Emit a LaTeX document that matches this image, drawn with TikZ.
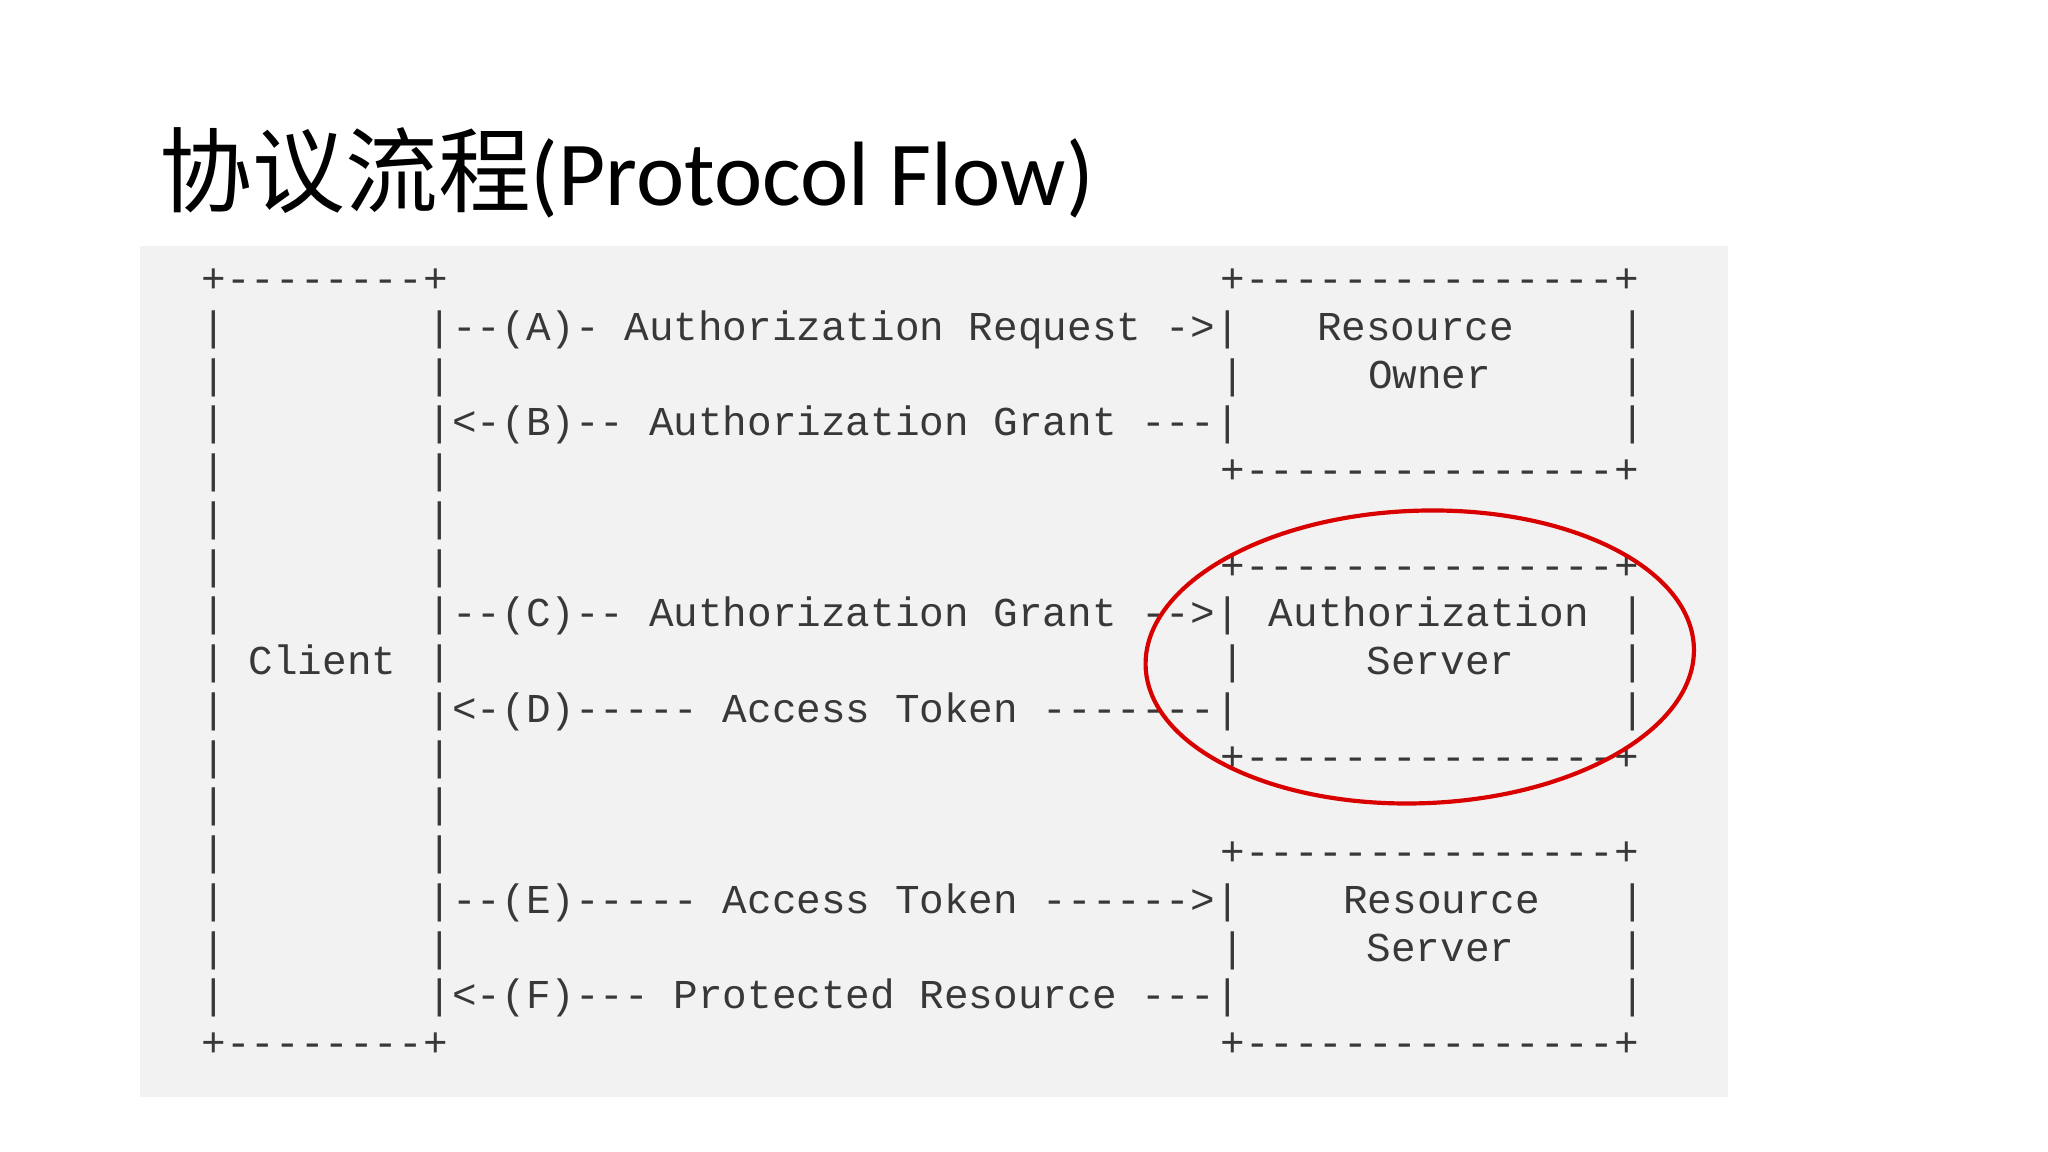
\documentclass[tikz,border=0pt]{standalone}
\usepackage{fontspec}
\setmainfont{Carlito}
\newfontfamily\cjk{Noto Sans CJK SC}
\newfontfamily\asc{Liberation Mono}
\begin{document}
\begin{tikzpicture}[x=0.5pt,y=-0.5pt,
  mono/.style={font=\asc\fontsize{15.7}{16}\selectfont, text=black!78, inner sep=0pt, anchor=base west},
  ttl/.style={inner sep=0pt, anchor=base west}]
\useasboundingbox (0,0) rectangle (1568,882);
\fill[white] (0,0) rectangle (1568,882);
\fill[black!5] (107,188) rectangle (1323,840);
\node[ttl] (title) at (122,157) {{\cjk\fontsize{35.5}{40}\selectfont 协议流程}{\fontsize{35}{40}\selectfont (Protocol Flow)}};
\def\ry#1{215+36.56*#1+9}
% client box
\node[mono] (ct) at (154,{\ry{0}}) {+--------+};
\node[mono] (cb) at (154,{\ry{16}}) {+--------+};
\foreach \r in {1,...,15} \node[mono] (cl\r) at (154,{\ry{\r}}) {|};
\foreach \r in {2,4,5,6,8,10,11,12,14} \node[mono] (cr\r) at (327,{\ry{\r}}) {|};
\node[mono] (client) at (190,{\ry{8}}) {Client};
% messages
\node[mono] (A) at (327,{\ry{1}}) {|--(A)-~Authorization~Request~->|};
\node[mono] (B) at (327,{\ry{3}}) {|<-(B)--~Authorization~Grant~---|};
\node[mono] (C) at (327,{\ry{7}}) {|--(C)--~Authorization~Grant~-->|};
\node[mono] (D) at (327,{\ry{9}}) {|<-(D)-----~Access~Token~-------|};
\node[mono] (E) at (327,{\ry{13}}) {|--(E)-----~Access~Token~------>|};
\node[mono] (F) at (327,{\ry{15}}) {|<-(F)---~Protected~Resource~---|};
% right boxes
\foreach \t/\b in {0/4,6/10,12/16}{
  \node[mono] (bt\t) at (934,{\ry{\t}}) {+---------------+};
  \node[mono] (bb\t) at (934,{\ry{\b}}) {+---------------+};
}
\foreach \r in {2,8,14} \node[mono] (bl\r) at (934,{\ry{\r}}) {|};
\foreach \r in {1,2,3,7,8,9,13,14,15} \node[mono] (br\r) at (1240,{\ry{\r}}) {|};
\node[mono] (ro1) at (1008,{\ry{1}}) {Resource};
\node[mono] (ro2) at (1047,{\ry{2}}) {Owner};
\node[mono] (as1) at (971,{\ry{7}}) {Authorization};
\node[mono] (as2) at (1046,{\ry{8}}) {Server};
\node[mono] (rs1) at (1028,{\ry{13}}) {Resource};
\node[mono] (rs2) at (1046,{\ry{14}}) {Server};
% red ellipse
\draw[red!85!black, line width=1.6pt, rotate around={2:(1087,503)}] (1087,503) ellipse [x radius=210, y radius=112];
\end{tikzpicture}
\end{document}
